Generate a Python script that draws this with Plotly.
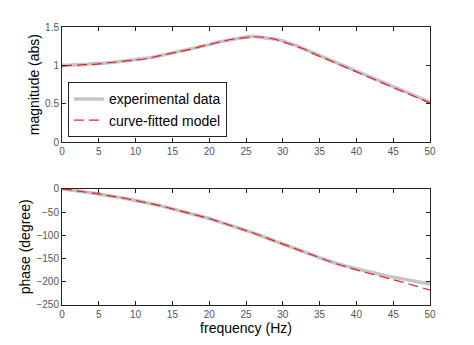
import plotly.graph_objects as go
from plotly.subplots import make_subplots

freq = list(range(0, 51))

mag_exp = [1.00, 1.00, 1.01, 1.01, 1.02, 1.02, 1.03, 1.04, 1.05, 1.06,
           1.07, 1.09, 1.10, 1.12, 1.14, 1.16, 1.18, 1.20, 1.23, 1.25,
           1.27, 1.30, 1.32, 1.34, 1.36, 1.37, 1.38, 1.37, 1.36, 1.34,
           1.32, 1.29, 1.25, 1.21, 1.17, 1.12, 1.08, 1.04, 1.00, 0.96,
           0.92, 0.88, 0.84, 0.80, 0.76, 0.72, 0.68, 0.64, 0.60, 0.56, 0.52]
mag_fit = [0.99, 1.00, 1.00, 1.01, 1.01, 1.02, 1.03, 1.04, 1.05, 1.06,
           1.07, 1.08, 1.10, 1.12, 1.14, 1.16, 1.18, 1.20, 1.22, 1.25,
           1.27, 1.29, 1.32, 1.34, 1.35, 1.36, 1.37, 1.37, 1.36, 1.34,
           1.31, 1.28, 1.25, 1.21, 1.16, 1.12, 1.08, 1.04, 1.00, 0.96,
           0.92, 0.88, 0.84, 0.80, 0.76, 0.72, 0.68, 0.64, 0.60, 0.56, 0.51]
phase_exp = [0, -2, -5, -7, -9, -11, -14, -16, -19, -22,
             -25, -28, -31, -35, -39, -43, -47, -51, -55, -60,
             -64, -69, -74, -79, -84, -90, -95, -101, -107, -113,
             -119, -125, -131, -137, -143, -149, -154, -159, -164, -168,
             -172, -176, -180, -184, -187, -190, -193, -196, -199, -202, -205]
phase_fit = [0, -2, -5, -7, -9, -11, -14, -16, -19, -22,
             -25, -28, -31, -35, -39, -43, -47, -51, -55, -60,
             -64, -69, -74, -79, -84, -90, -95, -101, -107, -113,
             -119, -125, -131, -137, -143, -149, -155, -160, -165, -170,
             -175, -179, -183, -187, -191, -196, -200, -204, -209, -213, -218]

x_ticks = list(range(0, 51, 5))
mag_ticks = [0, 0.5, 1, 1.5]
mag_tick_text = ["0", "0.5", "1", "1.5"]
phase_ticks = [0, -50, -100, -150, -200, -250]

FONT = "Liberation Sans, Arial"

fig = make_subplots(rows=2, cols=1, vertical_spacing=0.0)

fig.add_trace(go.Scatter(x=freq, y=mag_exp, mode="lines", name="experimental data",
                         line=dict(color="#c4c4c4", width=3.5)), row=1, col=1)
fig.add_trace(go.Scatter(x=freq, y=mag_fit, mode="lines", name="curve-fitted model",
                         line=dict(color="#e8202a", width=1.2, dash="10px,5px")), row=1, col=1)
fig.add_trace(go.Scatter(x=freq, y=phase_exp, mode="lines", showlegend=False,
                         line=dict(color="#c4c4c4", width=3.5)), row=2, col=1)
fig.add_trace(go.Scatter(x=freq, y=phase_fit, mode="lines", showlegend=False,
                         line=dict(color="#e8202a", width=1.2, dash="10px,5px")), row=2, col=1)

axis_common = dict(showgrid=False, zeroline=False, showline=True, linecolor="#222",
                   linewidth=1, mirror="ticks", ticks="inside", ticklen=4,
                   tickcolor="#222", tickfont=dict(family=FONT, size=10, color="#555"))
title_font = dict(family=FONT, size=14, color="#000")

fig.update_xaxes(range=[0, 50], tickvals=x_ticks, **axis_common)
fig.update_xaxes(title=dict(text="frequency (Hz)", standoff=3, font=title_font), row=2, col=1)
fig.update_yaxes(range=[0, 1.5], tickvals=mag_ticks, ticktext=mag_tick_text,
                 title=dict(text="magnitude (abs)", standoff=2, font=title_font),
                 row=1, col=1, **axis_common)
fig.update_yaxes(range=[-250, 0], tickvals=phase_ticks,
                 title=dict(text="phase (degree)", standoff=2, font=title_font),
                 row=2, col=1, **axis_common)

fig.update_layout(
    width=474, height=345,
    margin=dict(l=62, r=44, t=27, b=38),
    paper_bgcolor="white", plot_bgcolor="white",
    yaxis=dict(domain=[0.5857, 1.0]),
    yaxis2=dict(domain=[0.0, 0.418]),
    legend=dict(x=0.016, y=0.603, xanchor="left", yanchor="bottom",
                bordercolor="#222", borderwidth=1, bgcolor="white",
                font=dict(family=FONT, size=14, color="#000"),
                tracegroupgap=0, itemwidth=30),
    showlegend=True,
)

fig.write_html("out.html")
